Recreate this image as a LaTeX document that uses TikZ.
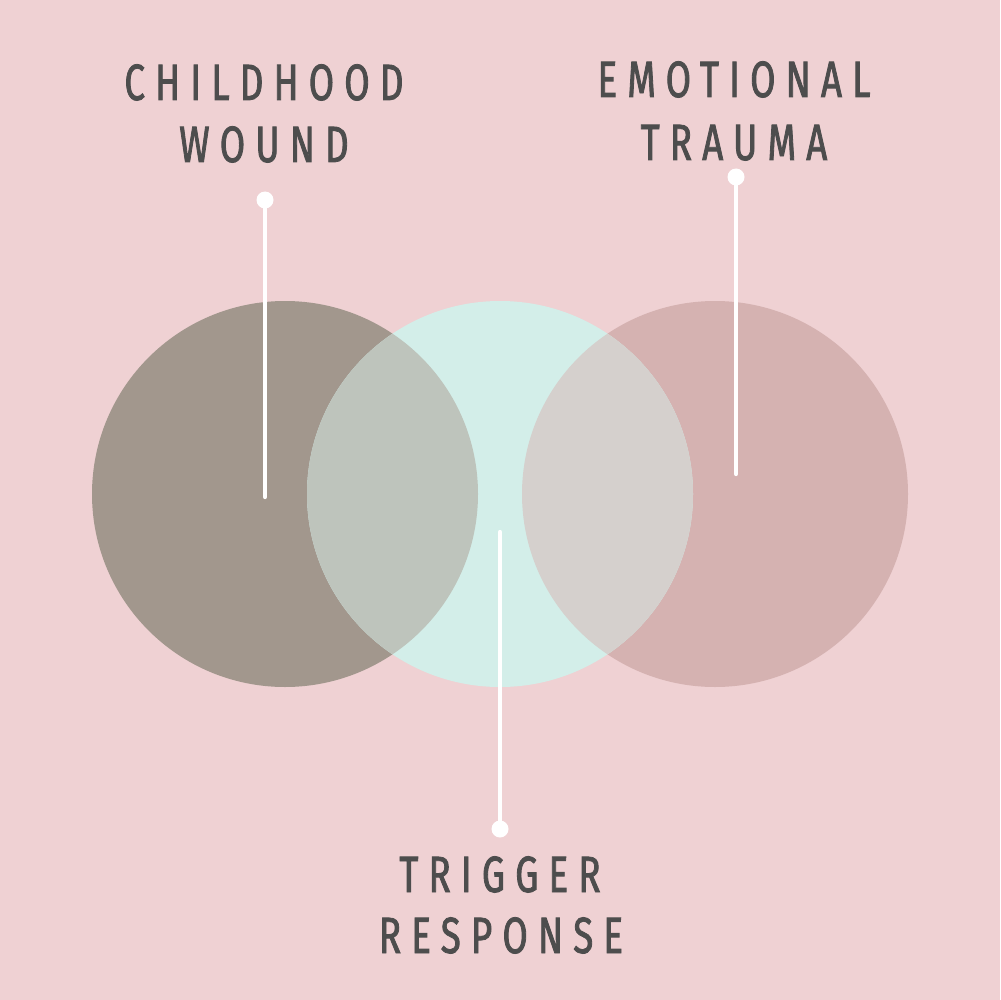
\documentclass[tikz,border=0pt]{standalone}
\usepackage{fontspec}
\newfontfamily\labelfont[FakeStretch=0.72,LetterSpace=20,FakeBold=1.6]{Fira Sans}
\definecolor{bg}{HTML}{EFD1D3}
\definecolor{cleft}{HTML}{A2978D}
\definecolor{cmid}{HTML}{D3EEE9}
\definecolor{cright}{HTML}{D5B2B1}
\definecolor{ovl}{HTML}{BEC4BC}
\definecolor{ovr}{HTML}{D5D0CD}
\definecolor{txt}{HTML}{4D4D4D}
\tikzset{
  lbl/.style={inner sep=0pt, anchor=base, text=txt, font=\labelfont\fontsize{29}{35}\selectfont},
  pin/.style={circle, fill=white, inner sep=0pt, minimum size=17*0.02cm},
  stem/.style={draw=white, line width=2.4pt, line cap=round},
}
\begin{document}
\begin{tikzpicture}[x=0.02cm,y=-0.02cm]
\fill[bg] (0,0) rectangle (1000,1000);
\useasboundingbox (0,0) rectangle (1000,1000);
\fill[cleft] (285,494) circle (193);
\fill[cright] (715,494) circle (193);
\fill[cmid] (500,494) circle (193);
\begin{scope}
  \clip (500,494) circle (193);
  \fill[ovl] (285,494) circle (193);
  \fill[ovr] (715,494) circle (193);
\end{scope}
% labels
\node[lbl] (t1a) at (264,100) {CHILDHOOD};
\node[lbl] (t1b) at (264,162) {WOUND};
\node[lbl] (t2a) at (734,97) {EMOTIONAL};
\node[lbl] (t2b) at (734,160) {TRAUMA};
\node[lbl] (t3a) at (500,892) {TRIGGER};
\node[lbl] (t3b) at (501,953) {RESPONSE};
% pins
\coordinate (e1) at (265,497);
\coordinate (e2) at (736,474);
\coordinate (e3) at (500,532);
\node[pin] (p1) at (265,200) {};
\node[pin] (p2) at (736,177) {};
\node[pin] (p3) at (500,829) {};
\draw[stem] (p1.center) -- (e1);
\draw[stem] (p2.center) -- (e2);
\draw[stem] (p3.center) -- (e3);
\end{tikzpicture}
\end{document}
